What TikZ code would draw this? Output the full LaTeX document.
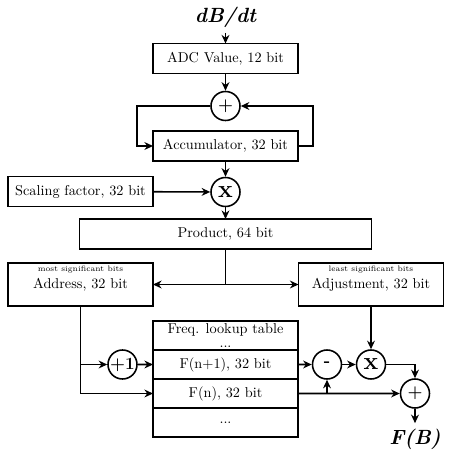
\documentclass[tikz,border=0pt]{standalone}
\usetikzlibrary{positioning,arrows.meta}

\begin{document}
\begin{tikzpicture}[x=0.7pt, y=-0.7pt, line width=1.1pt, >={Stealth[length=6pt,width=5.5pt]},
    main/.style = {draw, rectangle, minimum width=101.5pt, minimum height=21pt, inner sep=1pt, outer sep=0pt},
    row/.style = {main, minimum height=20.3pt},
    op/.style = {draw, circle, minimum size=20.3pt, inner sep=0pt, font=\large\bfseries},
    io/.style = {font=\Large\bfseries\itshape},
    note/.style = {anchor=north, font=\fontsize{5.5}{6}\selectfont, inner sep=1.5pt}]
        \useasboundingbox (0,0) rectangle (451,451);

        % input chain
        \node[io] (title) at (225.5,17) {dB/dt};
        \node[main] (adc) at (225.5,58.5) {ADC Value, 12 bit};
        \node[op] (sum) at (225.5,106) {+};
        \node[main] (acc) at (225.5,146) {Accumulator, 32 bit};
        \node[op, font=\LARGE\bfseries] (mul) at (225.5,192) {x};
        \node[main] (scale) at (80.5,191.5) {Scaling factor, 32 bit};
        \node[main, minimum width=204.4pt] (prod) at (225.5,234) {Product, 64 bit};

        % split of the product
        \node[main, minimum height=30.1pt, label={[note]north:most significant bits}] (addr) at (80.5,284.5) {Address, 32 bit};
        \node[main, minimum height=30.1pt, label={[note]north:least significant bits}] (adj) at (371,284.5) {Adjustment, 32 bit};

        % lookup table
        \node[row, align=center, inner sep=0.5pt] (tab) at (225.5,335.5) {Freq. lookup table\\[-2pt]...};
        \node[row, below=0pt of tab] (fn1) {F(n+1), 32 bit};
        \node[row, below=0pt of fn1] (fn) {F(n), 32 bit};
        \node[row, below=0pt of fn] (rest) {...};

        \node[op] (inc) at (122.5,364.5) {+1};
        \node[op] (sub) at (327,364.5) {-};
        \node[op, font=\LARGE\bfseries] (mul2) at (371,364.5) {x};
        \node[op] (sum2) at (415,393.5) {+};
        \node[io] (out) at (415,439) {F(B)};

        \path[->] (title) edge (adc);
        \path[->] (adc) edge (sum);
        \draw[->] (sum.west) -- ++(-73,0) |- (acc.west);
        \draw[->] (acc.east) -- ++(15,0) |- (sum.east);
        \path[->] (acc) edge (mul);
        \path[->] (scale) edge (mul);
        \path[->] (mul) edge (prod);

        \draw[->] (prod.south) |- (addr.east);
        \draw[->] (prod.south) |- (adj.west);

        \draw[->] (addr.south) |- (inc.west);
        \draw[->] (addr.south) |- (fn.west);
        \path[->] (inc) edge (fn1);
        \path[->] (fn1) edge (sub);
        \path[->] (sub) edge (mul2);
        \path[->] (adj) edge (mul2);
        \path[->] (fn) edge (sum2);
        \draw[->] (sub |- fn.east) -- (sub.south);
        \draw[->] (mul2.east) -| (sum2.north);
        \path[->] (sum2) edge (out);

    \end{tikzpicture}
\end{document}
